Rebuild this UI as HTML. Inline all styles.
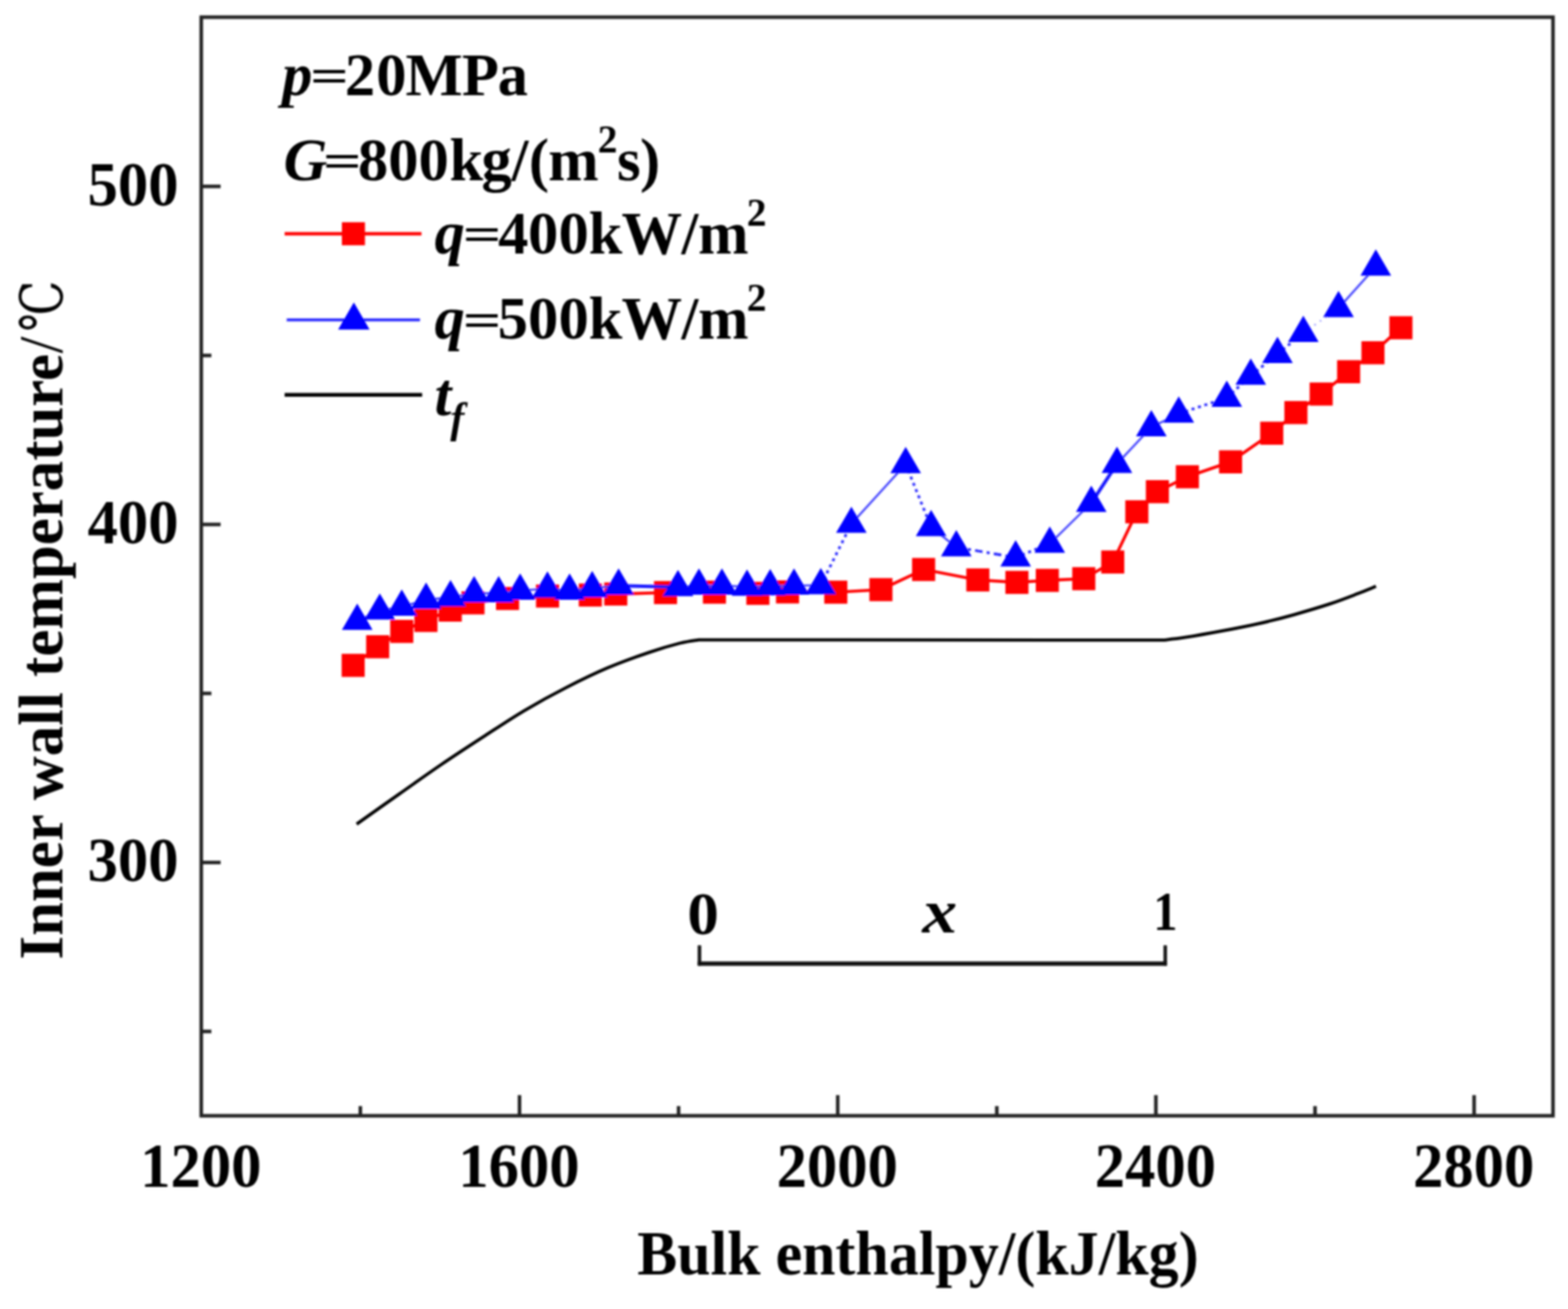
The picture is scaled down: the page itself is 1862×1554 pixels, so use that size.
<!DOCTYPE html>
<html lang="en"><head><meta charset="utf-8"><title>Inner wall temperature vs bulk enthalpy</title>
<style>
html,body{margin:0;padding:0;background:#fff;}
body{width:1862px;height:1554px;overflow:hidden;}
svg{display:block;}
text{font-family:"Liberation Serif","DejaVu Serif",serif;font-weight:bold;fill:#000;}
.i{font-style:italic;}
.n{font-weight:normal;}
.c{font-family:"Liberation Serif","DejaVu Serif","Noto Serif CJK SC",serif;}
</style></head><body>
<svg width="1862" height="1554" viewBox="0 0 1862 1554" role="img" aria-label="Inner wall temperature versus bulk enthalpy">
<defs><filter id="soft" filterUnits="userSpaceOnUse" x="0" y="0" width="1862" height="1554"><feGaussianBlur stdDeviation="0.8"/></filter></defs>
<rect x="0" y="0" width="1862" height="1554" fill="#fff"/>
<g filter="url(#soft)">
<g fill="none" stroke="#222" stroke-width="4.2" stroke-linecap="butt">
<rect x="239.0" y="20.4" width="1605.2" height="1304.2"/>
<line x1="239.0" y1="1023.9" x2="262.0" y2="1023.9"/>
<line x1="239.0" y1="622.6" x2="262.0" y2="622.6"/>
<line x1="239.0" y1="221.3" x2="262.0" y2="221.3"/>
<line x1="239.0" y1="1224.5" x2="251.0" y2="1224.5"/>
<line x1="239.0" y1="823.2" x2="251.0" y2="823.2"/>
<line x1="239.0" y1="422.0" x2="251.0" y2="422.0"/>
<line x1="616.9" y1="1324.6" x2="616.9" y2="1300.1"/>
<line x1="994.8" y1="1324.6" x2="994.8" y2="1300.1"/>
<line x1="1372.6" y1="1324.6" x2="1372.6" y2="1300.1"/>
<line x1="1750.5" y1="1324.6" x2="1750.5" y2="1300.1"/>
<line x1="427.9" y1="1324.6" x2="427.9" y2="1313.1"/>
<line x1="805.8" y1="1324.6" x2="805.8" y2="1313.1"/>
<line x1="1183.7" y1="1324.6" x2="1183.7" y2="1313.1"/>
<line x1="1561.6" y1="1324.6" x2="1561.6" y2="1313.1"/>
</g>
<text transform="translate(238.4,1409.4) scale(1.0000,1.0300)" font-size="72" text-anchor="middle">1200</text>
<text transform="translate(616.3,1409.4) scale(1.0000,1.0300)" font-size="72" text-anchor="middle">1600</text>
<text transform="translate(994.2,1409.4) scale(1.0000,1.0300)" font-size="72" text-anchor="middle">2000</text>
<text transform="translate(1372.0,1409.4) scale(1.0000,1.0300)" font-size="72" text-anchor="middle">2400</text>
<text transform="translate(1749.9,1409.4) scale(1.0000,1.0300)" font-size="72" text-anchor="middle">2800</text>
<text transform="translate(212.0,1046.1) scale(1.0000,1.0300)" font-size="72" text-anchor="end">300</text>
<text transform="translate(212.0,644.8) scale(1.0000,1.0300)" font-size="72" text-anchor="end">400</text>
<text transform="translate(212.0,243.5) scale(1.0000,1.0300)" font-size="72" text-anchor="end">500</text>
<text transform="translate(1090.0,1512.5) scale(0.9890,1.0300)" font-size="72" text-anchor="middle">Bulk enthalpy/(kJ/kg)</text>
<text transform="translate(74,1139.2) rotate(-90) scale(1.0027,1.0300)" font-size="72">Inner wall temperature<tspan class="n" x="717.7">/</tspan></text><text transform="translate(73.8,393.8) rotate(-90) scale(0.753,0.973)" font-size="72" class="n c">℃</text>
<path fill="none" stroke="#000" stroke-width="3.8" stroke-linejoin="round" d="M423.5,978.4 C431.9,972.4 457.4,954.3 474.1,942.6 C490.8,930.9 507.0,919.2 523.5,908.0 C540.0,896.8 556.4,886.1 572.9,875.4 C589.4,864.7 605.8,853.6 622.3,843.8 C638.8,834.0 655.2,825.0 671.7,816.6 C688.2,808.2 704.6,800.1 721.1,793.1 C737.6,786.1 756.1,779.5 770.5,774.6 C784.9,769.7 797.7,766.0 807.6,763.5 C817.5,761.0 826.1,760.2 829.8,759.6 L1381.6,759.9  C1385.9,759.4 1395.9,758.5 1407.4,756.7 C1418.9,754.9 1436.1,751.9 1450.4,749.2 C1464.7,746.5 1479.0,743.8 1493.3,740.6 C1507.6,737.4 1522.0,733.8 1536.3,729.8 C1550.6,725.8 1566.8,721.0 1579.3,716.9 C1591.8,712.8 1602.4,708.6 1611.5,705.1 C1620.6,701.6 1630.2,697.6 1634.0,696.1"/>
<polyline fill="none" stroke="#f00" stroke-width="3.6" points="419.4,789.9 448.5,767.8 477.1,749.6 505.8,736.6 534.7,724.3 561.7,715.7 602.7,710.5 650.2,707.6 701.0,706.4 731.2,705.2 790.3,703.5 848.4,703.0 900.0,704.4 935.2,702.7 992.5,703.0 1046.1,700.0 1096.8,676.1 1161.2,688.5 1207.6,691.4 1243.7,689.0 1287.0,687.0 1321.4,667.2 1350.0,607.6 1374.4,583.7 1410.0,566.0 1461.3,548.3 1510.2,514.3 1538.9,489.8 1568.9,467.8 1601.5,441.3 1630.4,418.8 1663.6,389.1"/>
<g fill="#f00">
<rect x="405.7" y="776.2" width="27.4" height="27.4"/>
<rect x="434.8" y="754.1" width="27.4" height="27.4"/>
<rect x="463.4" y="735.9" width="27.4" height="27.4"/>
<rect x="492.1" y="722.9" width="27.4" height="27.4"/>
<rect x="521.0" y="710.6" width="27.4" height="27.4"/>
<rect x="548.0" y="702.0" width="27.4" height="27.4"/>
<rect x="589.0" y="696.8" width="27.4" height="27.4"/>
<rect x="636.5" y="693.9" width="27.4" height="27.4"/>
<rect x="687.3" y="692.7" width="27.4" height="27.4"/>
<rect x="717.5" y="691.5" width="27.4" height="27.4"/>
<rect x="776.6" y="689.8" width="27.4" height="27.4"/>
<rect x="834.7" y="689.3" width="27.4" height="27.4"/>
<rect x="886.3" y="690.7" width="27.4" height="27.4"/>
<rect x="921.5" y="689.0" width="27.4" height="27.4"/>
<rect x="978.8" y="689.3" width="27.4" height="27.4"/>
<rect x="1032.4" y="686.3" width="27.4" height="27.4"/>
<rect x="1083.1" y="662.4" width="27.4" height="27.4"/>
<rect x="1147.5" y="674.8" width="27.4" height="27.4"/>
<rect x="1193.9" y="677.7" width="27.4" height="27.4"/>
<rect x="1230.0" y="675.3" width="27.4" height="27.4"/>
<rect x="1273.3" y="673.3" width="27.4" height="27.4"/>
<rect x="1307.7" y="653.5" width="27.4" height="27.4"/>
<rect x="1336.3" y="593.9" width="27.4" height="27.4"/>
<rect x="1360.7" y="570.0" width="27.4" height="27.4"/>
<rect x="1396.3" y="552.3" width="27.4" height="27.4"/>
<rect x="1447.6" y="534.6" width="27.4" height="27.4"/>
<rect x="1496.5" y="500.6" width="27.4" height="27.4"/>
<rect x="1525.2" y="476.1" width="27.4" height="27.4"/>
<rect x="1555.2" y="454.1" width="27.4" height="27.4"/>
<rect x="1587.8" y="427.6" width="27.4" height="27.4"/>
<rect x="1616.7" y="405.1" width="27.4" height="27.4"/>
<rect x="1649.9" y="375.4" width="27.4" height="27.4"/>
</g>
<line x1="424.2" y1="737.0" x2="451.0" y2="724.9" fill="none" stroke="#4a4aff" stroke-width="2.6"/>
<line x1="451.0" y1="724.9" x2="477.1" y2="720.3" fill="none" stroke="#4a4aff" stroke-width="2.6"/>
<line x1="477.1" y1="720.3" x2="506.0" y2="712.1" fill="none" stroke="#4a4aff" stroke-width="2.6"/>
<line x1="506.0" y1="712.1" x2="535.0" y2="709.1" fill="none" stroke="#4a4aff" stroke-width="2.6"/>
<line x1="535.0" y1="709.1" x2="563.0" y2="704.3" fill="none" stroke="#4a4aff" stroke-width="2.6"/>
<line x1="563.0" y1="704.3" x2="592.2" y2="704.3" fill="none" stroke="#4a4aff" stroke-width="2.6"/>
<line x1="592.2" y1="704.3" x2="617.7" y2="701.2" fill="none" stroke="#4a4aff" stroke-width="2.6"/>
<line x1="617.7" y1="701.2" x2="650.1" y2="698.7" fill="none" stroke="#4a4aff" stroke-width="2.6"/>
<line x1="650.1" y1="698.7" x2="676.4" y2="701.2" fill="none" stroke="#4a4aff" stroke-width="2.6"/>
<line x1="676.4" y1="701.2" x2="703.2" y2="698.2" fill="none" stroke="#4a4aff" stroke-width="2.6"/>
<line x1="703.2" y1="698.2" x2="734.6" y2="695.3" fill="none" stroke="#4a4aff" stroke-width="2.6"/>
<line x1="734.6" y1="695.3" x2="805.1" y2="697.0" fill="none" stroke="#1414ff" stroke-width="4"/>
<line x1="805.1" y1="697.0" x2="830.0" y2="695.3" fill="none" stroke="#4a4aff" stroke-width="2.6"/>
<line x1="830.0" y1="695.3" x2="857.3" y2="695.3" fill="none" stroke="#4a4aff" stroke-width="2.6"/>
<line x1="857.3" y1="695.3" x2="887.1" y2="696.5" fill="none" stroke="#4a4aff" stroke-width="2.6"/>
<line x1="887.1" y1="696.5" x2="914.6" y2="696.0" fill="none" stroke="#4a4aff" stroke-width="2.6"/>
<line x1="914.6" y1="696.0" x2="942.9" y2="695.3" fill="none" stroke="#4a4aff" stroke-width="2.6"/>
<line x1="942.9" y1="695.3" x2="974.7" y2="694.8" fill="none" stroke="#4a4aff" stroke-width="2.6"/>
<line x1="974.7" y1="694.8" x2="1011.0" y2="621.9" fill="none" stroke="#2a2aff" stroke-width="3.2" stroke-dasharray="3.6 4.4"/>
<line x1="1011.0" y1="621.9" x2="1075.5" y2="551.1" fill="none" stroke="#4a4aff" stroke-width="2.6"/>
<line x1="1075.5" y1="551.1" x2="1105.7" y2="625.7" fill="none" stroke="#2a2aff" stroke-width="3.2" stroke-dasharray="3.6 4.4"/>
<line x1="1105.7" y1="625.7" x2="1135.6" y2="649.7" fill="none" stroke="#4a4aff" stroke-width="2.6"/>
<line x1="1135.6" y1="649.7" x2="1206.1" y2="661.8" fill="none" stroke="#2a2aff" stroke-width="3.2" stroke-dasharray="9 5 3.6 5"/>
<line x1="1206.1" y1="661.8" x2="1246.6" y2="645.5" fill="none" stroke="#2a2aff" stroke-width="3.2" stroke-dasharray="3.6 4.4"/>
<line x1="1246.6" y1="645.5" x2="1295.9" y2="597.1" fill="none" stroke="#4a4aff" stroke-width="2.6"/>
<line x1="1295.9" y1="597.1" x2="1326.4" y2="550.7" fill="none" stroke="#1414ff" stroke-width="4"/>
<line x1="1326.4" y1="550.7" x2="1367.2" y2="507.2" fill="none" stroke="#4a4aff" stroke-width="2.6"/>
<line x1="1367.2" y1="507.2" x2="1399.8" y2="491.1" fill="none" stroke="#4a4aff" stroke-width="2.6"/>
<line x1="1399.8" y1="491.1" x2="1456.8" y2="472.3" fill="none" stroke="#2a2aff" stroke-width="3.2" stroke-dasharray="3.6 4.4"/>
<line x1="1456.8" y1="472.3" x2="1485.3" y2="446.0" fill="none" stroke="#2a2aff" stroke-width="3.2" stroke-dasharray="3.6 4.4"/>
<line x1="1485.3" y1="446.0" x2="1517.0" y2="420.2" fill="none" stroke="#2a2aff" stroke-width="3.2" stroke-dasharray="3.6 4.4"/>
<line x1="1517.0" y1="420.2" x2="1547.7" y2="395.3" fill="none" stroke="#2a2aff" stroke-width="3.2" stroke-dasharray="3.6 4.4"/>
<line x1="1547.7" y1="395.3" x2="1589.5" y2="365.8" fill="none" stroke="#9a9aff" stroke-width="2" stroke-dasharray="2 6"/>
<line x1="1589.5" y1="365.8" x2="1633.8" y2="316.6" fill="none" stroke="#4a4aff" stroke-width="2.6"/>
<g fill="#00f">
<polygon points="424.2,716.5 442.4,747.7 406.0,747.7"/>
<polygon points="451.0,704.4 469.2,735.6 432.8,735.6"/>
<polygon points="477.1,699.8 495.3,731.0 458.9,731.0"/>
<polygon points="506.0,691.6 524.2,722.8 487.8,722.8"/>
<polygon points="535.0,688.6 553.2,719.8 516.8,719.8"/>
<polygon points="563.0,683.8 581.2,715.0 544.8,715.0"/>
<polygon points="592.2,683.8 610.4,715.0 574.0,715.0"/>
<polygon points="617.7,680.7 635.9,711.9 599.5,711.9"/>
<polygon points="650.1,678.2 668.3,709.4 631.9,709.4"/>
<polygon points="676.4,680.7 694.6,711.9 658.2,711.9"/>
<polygon points="703.2,677.7 721.4,708.9 685.0,708.9"/>
<polygon points="734.6,674.8 752.8,706.0 716.4,706.0"/>
<polygon points="805.1,676.5 823.3,707.7 786.9,707.7"/>
<polygon points="830.0,674.8 848.2,706.0 811.8,706.0"/>
<polygon points="857.3,674.8 875.5,706.0 839.1,706.0"/>
<polygon points="887.1,676.0 905.3,707.2 868.9,707.2"/>
<polygon points="914.6,675.5 932.8,706.7 896.4,706.7"/>
<polygon points="942.9,674.8 961.1,706.0 924.7,706.0"/>
<polygon points="974.7,674.3 992.9,705.5 956.5,705.5"/>
<polygon points="1011.0,601.4 1029.2,632.6 992.8,632.6"/>
<polygon points="1075.5,530.6 1093.7,561.8 1057.3,561.8"/>
<polygon points="1105.7,605.2 1123.9,636.4 1087.5,636.4"/>
<polygon points="1135.6,629.2 1153.8,660.4 1117.4,660.4"/>
<polygon points="1206.1,641.3 1224.3,672.5 1187.9,672.5"/>
<polygon points="1246.6,625.0 1264.8,656.2 1228.4,656.2"/>
<polygon points="1295.9,576.6 1314.1,607.8 1277.7,607.8"/>
<polygon points="1326.4,530.2 1344.6,561.4 1308.2,561.4"/>
<polygon points="1367.2,486.7 1385.4,517.9 1349.0,517.9"/>
<polygon points="1399.8,470.6 1418.0,501.8 1381.6,501.8"/>
<polygon points="1456.8,451.8 1475.0,483.0 1438.6,483.0"/>
<polygon points="1485.3,425.5 1503.5,456.7 1467.1,456.7"/>
<polygon points="1517.0,399.7 1535.2,430.9 1498.8,430.9"/>
<polygon points="1547.7,374.8 1565.9,406.0 1529.5,406.0"/>
<polygon points="1589.5,345.3 1607.7,376.5 1571.3,376.5"/>
<polygon points="1633.8,296.1 1652.0,327.3 1615.6,327.3"/>
</g>
<text transform="translate(0,112.9) scale(1.0000,1.0050)" font-size="72"><tspan x="335.0" y="0" class="i">p</tspan></text><text transform="translate(0,109.0) scale(1.1200,0.7900)" font-size="72"><tspan x="328.7" y="0">=</tspan></text><text transform="translate(0,112.9) scale(1.0000,1.0050)" font-size="72"><tspan x="409.6" y="0">2</tspan><tspan x="446.7" y="0">0</tspan><tspan x="481.5" y="0">M</tspan><tspan x="548.6" y="0">P</tspan><tspan x="590.9" y="0">a</tspan></text>
<text transform="translate(0,213.9) scale(1.0000,1.0050)" font-size="72"><tspan x="336.7" y="0" class="i">G</tspan></text><text transform="translate(0,210.0) scale(1.1200,0.7900)" font-size="72"><tspan x="342.5" y="0">=</tspan></text><text transform="translate(0,213.9) scale(1.0000,1.0050)" font-size="72"><tspan x="425.1" y="0">8</tspan><tspan x="460.9" y="0">0</tspan><tspan x="497.0" y="0">0</tspan><tspan x="533.8" y="0">k</tspan><tspan x="571.8" y="0">g</tspan><tspan x="607.6" y="0">/</tspan><tspan x="628.1" y="0">(</tspan><tspan x="651.1" y="0">m</tspan><tspan x="709.7" y="-32.8" font-size="47">2</tspan><tspan x="732.7" y="0">s</tspan><tspan x="760.1" y="0">)</tspan></text>
<text transform="translate(0,300.8) scale(1.0000,1.0050)" font-size="72"><tspan x="516.0" y="0" class="i">q</tspan></text><text transform="translate(0,296.9) scale(1.1200,0.7900)" font-size="72"><tspan x="490.6" y="0">=</tspan></text><text transform="translate(0,300.8) scale(1.0000,1.0050)" font-size="72"><tspan x="591.5" y="0">4</tspan><tspan x="627.0" y="0">0</tspan><tspan x="663.2" y="0">0</tspan><tspan x="699.0" y="0">k</tspan><tspan x="738.1" y="0">W</tspan><tspan x="809.2" y="0">/</tspan><tspan x="828.9" y="0">m</tspan><tspan x="886.8" y="-32.9" font-size="47">2</tspan></text>
<text transform="translate(0,402.4) scale(1.0000,1.0050)" font-size="72"><tspan x="516.0" y="0" class="i">q</tspan></text><text transform="translate(0,398.5) scale(1.1200,0.7900)" font-size="72"><tspan x="490.6" y="0">=</tspan></text><text transform="translate(0,402.4) scale(1.0000,1.0050)" font-size="72"><tspan x="591.1" y="0">5</tspan><tspan x="627.0" y="0">0</tspan><tspan x="663.2" y="0">0</tspan><tspan x="699.0" y="0">k</tspan><tspan x="738.1" y="0">W</tspan><tspan x="809.2" y="0">/</tspan><tspan x="828.9" y="0">m</tspan><tspan x="886.8" y="-32.9" font-size="47">2</tspan></text>
<text transform="translate(0,492.8) scale(1.0000,1.0050)" font-size="72"><tspan x="516.0" y="0" class="i">t</tspan><tspan x="534.7" y="19.6" font-size="50" class="i">f</tspan></text>
<line x1="338" y1="277.6" x2="500.5" y2="277.6" stroke="#f00" stroke-width="4"/>
<rect x="406.0" y="263.8" width="27.4" height="27.4" fill="#f00"/>
<line x1="340.5" y1="379.7" x2="498.7" y2="379.7" stroke="#2a2aff" stroke-width="3.4"/>
<polygon fill="#00f" points="420.2,359.0 438.9,391.2 401.5,391.2"/>
<line x1="338" y1="468.7" x2="501.3" y2="468.7" stroke="#000" stroke-width="4.4"/>
<path fill="none" stroke="#0a0a0a" d="M830.6,1122.3 V1146.3" stroke-width="4"/>
<path fill="none" stroke="#0a0a0a" d="M1383.7,1122.3 V1146.3" stroke-width="4"/>
<path fill="none" stroke="#0a0a0a" d="M828.6,1144.0 H1385.7" stroke-width="4.8"/>
<text transform="translate(835.0,1109.0) scale(1.0400,1.0080)" font-size="72" text-anchor="middle">0</text>
<text transform="translate(1116.0,1107.3) scale(1.1500,1.0300)" font-size="72" text-anchor="middle"><tspan class="i">x</tspan></text>
<text transform="translate(1384.0,1104.4) scale(0.8000,0.9200)" font-size="72" text-anchor="middle">1</text>
</g>
</svg>
</body></html>
